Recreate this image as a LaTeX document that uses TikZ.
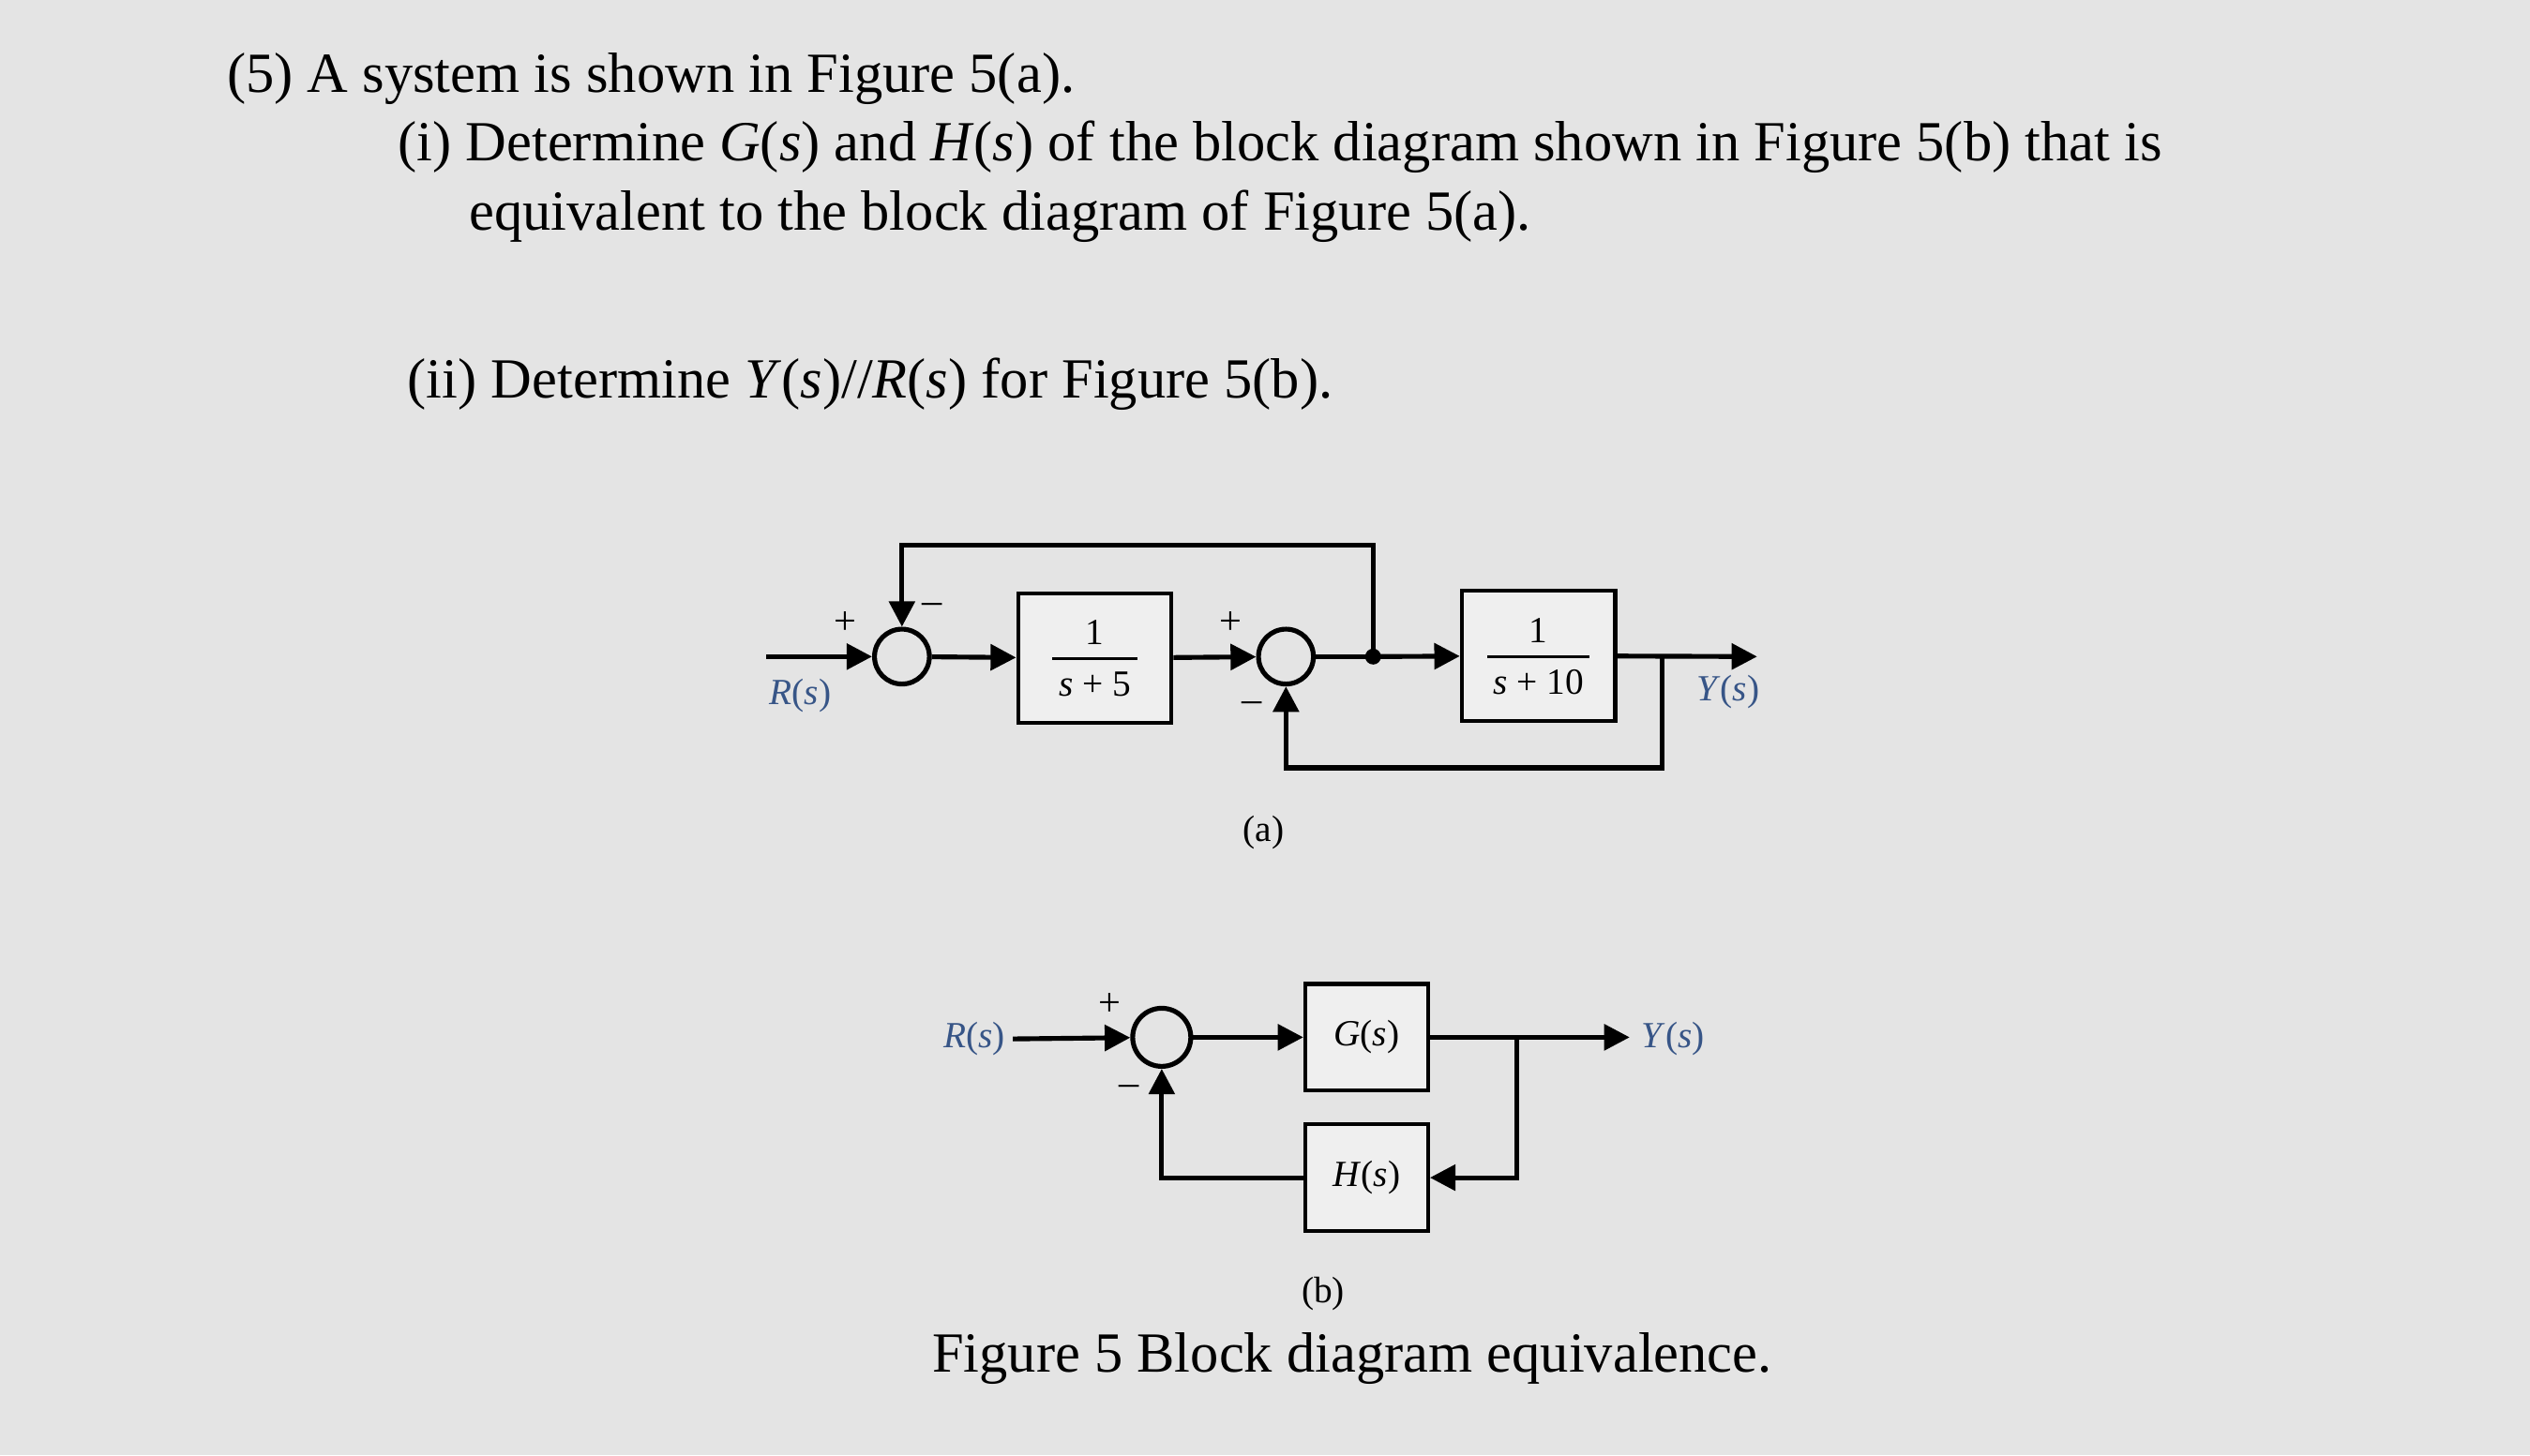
\documentclass[tikz,border=0pt]{standalone}
\usepackage{fontspec}
\setmainfont{Liberation Serif}
\usetikzlibrary{arrows.meta}
\definecolor{bg}{RGB}{228,228,228}
\definecolor{lbl}{RGB}{55,85,135}
\begin{document}
\begin{tikzpicture}[x=0.01cm,y=-0.01cm,
  wire/.style={line width=0.85pt},
  arr/.style={wire,-{Triangle[length=4.5pt,width=4.5pt]}},
  sumj/.style={circle,draw,line width=0.85pt,minimum size=0.34cm,inner sep=0pt},
  blk/.style={draw,line width=0.7pt,fill=white!40!bg,inner sep=0pt},
  body/.style={font=\fontsize{10}{11}\selectfont,anchor=west,inner sep=0pt},
  sm/.style={font=\fontsize{6.5}{7}\selectfont,inner sep=0pt},
  sg/.style={font=\fontsize{7}{7}\selectfont,inner sep=0pt}]
\fill[bg] (0,0) rectangle (1568,902);
\useasboundingbox (0,0) rectangle (1568,902);
% text
\node[body] (t1) at (140,49) {(5) A system is shown in Figure 5(a).};
\node[body] (t2) at (246,91) {(i) Determine \textit{G}(\textit{s}) and \textit{H}(\textit{s}) of the block diagram shown in Figure 5(b) that is};
\node[body] (t3) at (290,134) {equivalent to the block diagram of Figure 5(a).};
\node[body] (t4) at (252,238) {(ii) Determine \textit{Y}(\textit{s})//\textit{R}(\textit{s}) for Figure 5(b).};
% Fig a
\coordinate (ain) at (475,407);
\node[sumj] (s1) at (559,407) {};
\node[blk,minimum width=0.95cm,minimum height=0.8cm] (b1) at (678.5,408) {};
\node[sm] (b1n) at (678.5,392) {1};
\node[sm] (b1d) at (678.5,424) {\textit{s} + 5};
\draw[line width=0.5pt] (652,408) -- (705,408);
\node[sumj] (s2) at (797,407) {};
\coordinate (br1) at (851,407);
\node[blk,minimum width=0.95cm,minimum height=0.81cm] (b2) at (953.5,406.5) {};
\node[sm] (b2n) at (953.5,391) {1};
\node[sm] (b2d) at (953.5,423) {\textit{s} + 10};
\draw[line width=0.5pt] (922,407) -- (985,407);
\coordinate (br2) at (1030,407);
\coordinate (aout) at (1089,407);
\draw[arr] (ain) -- (s1);
\draw[arr] (s1) -- (b1);
\draw[arr] (b1) -- (s2);
\draw[wire] (s2) -- (br1);
\draw[arr] (br1) -- (b2);
\draw[arr] (b2) -- (aout);
\fill (br1) circle (1.4pt);
\draw[arr] (br1) |- (559,338) -- (s1);
\draw[arr] (br2) |- (797,476) -- (s2);
\node[sg] (p1) at (524,386) {+};
\node[sg] (m1) at (578,377) {--};
\node[sg] (p2) at (763,386) {+};
\node[sg] (m2) at (776,438) {--};
\node[sm,text=lbl] (ra) at (496,431) {\textit{R}(\textit{s})};
\node[sm,text=lbl] (ya) at (1071,429) {\textit{Y}(\textit{s})};
\node[sm] (la) at (783,516) {(a)};
% Fig b
\node[sm,text=lbl] (rb) at (604,644) {\textit{R}(\textit{s})};
\node[sumj,minimum size=0.36cm] (s3) at (720,643) {};
\node[blk,minimum width=0.76cm,minimum height=0.66cm] (g) at (847,643) {};
\node[sm] (gt) at (847,643) {\textit{G}(\textit{s})};
\node[blk,minimum width=0.76cm,minimum height=0.66cm] (h) at (847,730) {};
\node[sm] (ht) at (847,730) {\textit{H}(\textit{s})};
\coordinate (br3) at (940,643);
\coordinate (bout) at (1010,643);
\node[sm,text=lbl] (yb) at (1037,644) {\textit{Y}(\textit{s})};
\draw[arr] (rb.east)++(4,0) -- (s3);
\draw[arr] (s3) -- (g);
\draw[arr] (g) -- (bout);
\draw[arr] (br3) |- (h);
\draw[arr] (h) -| (s3);
\node[sg] (p3) at (688,623) {+};
\node[sg] (m3) at (700,676) {--};
\node[sm] (lb) at (820,802) {(b)};
\node[font=\fontsize{10}{11}\selectfont,inner sep=0pt] (cap) at (838,842) {Figure 5 Block diagram equivalence.};
\end{tikzpicture}
\end{document}
